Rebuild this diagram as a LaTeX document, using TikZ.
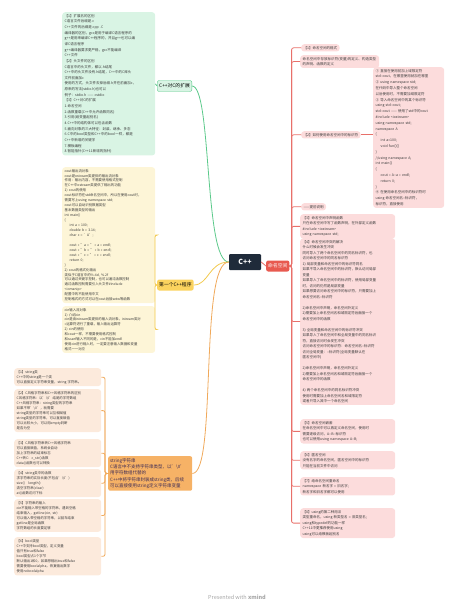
\documentclass[tikz,border=0pt]{standalone}
\usepackage{fontspec}
\setmainfont{Noto Sans CJK SC}
\XeTeXlinebreaklocale "zh"
\XeTeXlinebreakskip=0pt plus 1pt
\usetikzlibrary{positioning}

\definecolor{rootfill}{HTML}{1F2B3A}
\definecolor{grnline}{HTML}{5BC98A}
\definecolor{grnfill}{HTML}{D9F4E4}
\definecolor{yelline}{HTML}{F2C94C}
\definecolor{yeltopic}{HTML}{FBD35E}
\definecolor{yelfill}{HTML}{FDF5D7}
\definecolor{orgline}{HTML}{F0A95B}
\definecolor{orgtopic}{HTML}{F6B266}
\definecolor{orgtext}{HTML}{3D2B56}
\definecolor{orgfill}{HTML}{FCEADC}
\definecolor{redline}{HTML}{E8706A}
\definecolor{redtopic}{HTML}{E85A50}
\definecolor{redfill}{HTML}{FCDCDC}
\definecolor{notetext}{HTML}{3C3C3C}

\newcommand\notesize{\fontsize{3.5}{5.5}\selectfont}
\newcommand\topicsize{\fontsize{4.8}{6.4}\selectfont}

\begin{document}
\begin{tikzpicture}[x=1pt, y=-1pt,
  root/.style={fill=rootfill, text=white, font=\fontsize{7}{8}\selectfont\bfseries, minimum width=32pt, minimum height=16pt, rounded corners=1pt},
  topic/.style={rounded corners=2pt, font=\topicsize, inner sep=2pt, minimum height=11pt},
  note/.style={rounded corners=3pt, font=\notesize, text=notetext, align=left, anchor=north west, inner xsep=2.5pt, inner ysep=2pt},
  grnnote/.style={note, fill=grnfill, font=\fontsize{3.5}{5.65}\selectfont},
  yelnote/.style={note, fill=yelfill, font=\fontsize{3.4}{4.95}\selectfont},
  orgnote/.style={note, fill=orgfill, text width=82pt, font=\fontsize{3.4}{5.1}\selectfont},
  rednote/.style={note, fill=redfill},
  grn/.style={draw=grnline, line width=0.8pt},
  yel/.style={draw=yelline, line width=0.8pt},
  org/.style={draw=orgline, line width=0.8pt},
  red/.style={draw=redline, line width=0.8pt}
]
  \useasboundingbox (0,0) rectangle (474,606);

  % Root
  \node[root] (cpp) at (245,262) {C++};

  % Topics
  \node[topic, fill=grnfill, draw=grnline, anchor=west] (ext) at (157,86) {C++对C的扩展};
  \node[topic, fill=yeltopic, anchor=west] (first) at (157,285) {第一个C++程序};
  \node[topic, fill=orgtopic, text=orgtext, anchor=north west, align=left, text width=80pt, font=\fontsize{4.5}{6.4}\selectfont] (str) at (108,456) {string字符串\\C语言中不支持字符串类型，以'\textbackslash 0'\\用字符数组代替的\\C++中将字符串封装成string类，后续\\可以直接使用string定义字符串变量};
  \node[topic, fill=redtopic, text=white, anchor=west] (ns) at (266,266) {命名空间};

  % C++对C的扩展
  \node[grnnote, text width=88pt] (extbox) at (62,12) {%
【1】扩展名的区别\\
C语言文件后缀是.c\\
C++文件的后缀是.cpp .C\\
编译器的区别，gcc是用于编译C语言程序的\\
g++是用来编译C++程序的，并且g++也可以编\\
译C语言程序\\
g++编译器要求更严格，gcc不能编译\\
C++文件\\
【2】头文件的区别\\
C语言中的头文件，都以.h结尾\\
C++中的头文件没有.h结尾，C++中的C库头\\
文件前面加c\\
使用的方式，头文件去掉后缀.h并在前面加c，\\
原来的写法(stdio.h)也可以\\
例子：stdio.h —— cstdio\\
【3】C++对C的扩展\\
1.命名空间\\
2.函数重载(C++中允许函数同名)\\
3.引用(给变量起别名)\\
4.C++中的结构体可以包含函数\\
5.面向对象的三大特征：封装、继承、多态\\
6.C中的bool类型和C++中的bool一样，都是\\
C++中新增的关键字\\
7.模板编程\\
8.智能指针(C++11新增的指针)};

  % 第一个C++程序
  \node[yelnote, text width=88pt] (cout) at (62,167) {%
cout输出流对象\\
cout是ostream类提供的输出流对象\\
作用：输出内容，不需要使用格式控制\\
在C++中ostream类提供了输出的功能\\
1) cout的使用\\
cout标识符在std命名空间中，所以在使用cout时，\\
需要写上using namespace std;\\
cout可以自动识别数据类型\\
基本数据类型的输出\\
int main()\\
\{\\
\hspace*{5pt}int a = 100;\\
\hspace*{5pt}double b = 3.14;\\
\hspace*{5pt}char c = 'A';\\[4.95pt]
\hspace*{5pt}cout << "a = " << a << endl;\\
\hspace*{5pt}cout << "b = " << b << endl;\\
\hspace*{5pt}cout << "c = " << c << endl;\\
\hspace*{5pt}return 0;\\
\}\\
2) cout的格式化输出\\
类似于C语言中的\%-4d, \%.2f\\
可以通过关键字控制，也可以通过函数控制\\
通过函数控制需要引入头文件\#include\\
<iomanip>\\
配置中的不能使用中文\\
控制格式的方式可以在cout后接setw等函数};

  \node[yelnote, text width=88pt] (cin) at (62,306) {%
cin输入流对象\\
1) 介绍cin\\
cin是由istream类提供的输入流对象，istream类对\\
>>运算符进行了重载，输入输出运算符\\
2) cin的使用\\
和cout一样，不需要使用格式控制\\
和scanf输入不同的是，cin不能加endl\\
使用cin进行输入时，一定要注意输入数据和变量\\
格式一一对应};

  % string字符串
  \node[orgnote] (s1) at (14,368) {%
【1】string类\\
C++中的string是一个类\\
可以直接定义字符串变量，string 字符串。};
  \node[orgnote] (s2) at (14,389) {%
【2】C风格字符串和C++风格字符串的区别\\
C风格字符串：以'\textbackslash 0'结尾的字符数组\\
C++风格字符串：string类型的字符串\\
如果不带'\textbackslash 0'，就需要\\
string类型的字符串可以互相赋值\\
string类型的字符串，可以直接赋值\\
可以比较大小，可以用empty判断\\
是否为空};
  \node[orgnote] (s3) at (14,439) {%
【3】C风格字符串转C++风格字符串\\
可以直接赋值，系统会自动\\
加上字符串的结束标志\\
C++转C：c\_str()函数\\
data()函数也可以转换};
  \node[orgnote] (s4) at (14,469) {%
【4】string类中的函数\\
求字符串的实际长度(不包含'\textbackslash 0')\\
size()\quad length()\\
清空字符串(clear)\\
at()函数访问下标};
  \node[orgnote] (s5) at (14,499) {%
【5】字符串的输入\\
cin不能输入带空格的字符串，遇到空格\\
结束输入，getline(cin, str)\\
可以输入带空格的字符串，以回车结束\\
getline是全局函数\\
字符数组的长度要足够};
  \node[orgnote] (s6) at (14,537) {%
【6】bool类型\\
C++中支持bool类型，定义变量\\
值只有true和false\\
bool类型占1个字节\\
默认输出1和0，如果想输出true和false\\
需要使用boolalpha，恢复输出数字\\
使用noboolalpha};

  % 命名空间
  \node[rednote] (fmt) at (301,44) {【1】命名空间的格式};
  \node[rednote, text width=74pt] (fmtbody) at (300,55) {命名空间中存放标识符(变量)的定义、构造类型的声明、函数的定义};
  \node[rednote, text width=66pt, font=\fontsize{3.5}{5.8}\selectfont] (usebody) at (373,67) {%
① 直接在使用前加上域限定符\\
std::cout，在哪里使用就加在哪里\\
② using namespace std;\\
在代码中导入整个命名空间\\
以后使用时，不需要加域限定符\\
③ 导入命名空间中的某个标识符\\
using std::cout;\\
std::cout —— 使用了std中的cout\\
\#include <iostream>\\
using namespace std;\\
namespace A\\
\{\\
\hspace*{5pt}int a=100;\\
\hspace*{5pt}void fun()\{\}\\
\}\\
//using namespace A;\\
int main()\\
\{\\
\hspace*{5pt}cout << A::a << endl;\\
\hspace*{5pt}return 0;\\
\}\\
④ 在使用命名空间中的标识符时\\
using 命名空间名::标识符，\\
标识符，直接使用};
  \node[rednote] (usehdr) at (301,131) {【2】如何使用命名空间中的标识符};
  \node[rednote] (pre) at (301,203) {------提前说明};
  \node[rednote, text width=90pt] (decl) at (300,214) {%
【3】命名空间中声明函数\\
只在命名空间中写了函数声明，在外部定义函数\\
\#include <iostream>\\
using namespace std;};
  \node[rednote, text width=90pt] (clash) at (300,238) {%
【4】命名空间冲突的解决\\
什么时候会发生冲突\\
同时导入了两个命名空间中的同名标识符，也\\
访问命名空间中的同名标识符\\
1) 局部变量和命名空间中的标识符同名\\
如果不导入命名空间中的标识符，默认访问局部\\
变量\\
如果导入了命名空间中的标识符，使用局部变量\\
时，访问的仍然是局部变量\\
如果想要访问命名空间中的标识符，只需要加上\\
命名空间名::标识符\\[5.5pt]
2)命名空间中声明，命名空间外定义\\
2)需要加上命名空间名和域限定符后面接一个\\
命名空间中的函数\\[5.5pt]
3) 全局变量和命名空间中的标识符冲突\\
如果导入了命名空间中和全局变量中的同名标识\\
符，直接访问时会发生冲突\\
访问命名空间中的标识符：命名空间名::标识符\\
访问全局变量：::标识符(全局变量默认在\\
匿名空间中)\\[5.5pt]
2)命名空间中声明，命名空间外定义\\
2)需要加上命名空间名和域限定符后面接一个\\
命名空间中的函数\\[5.5pt]
4) 两个命名空间中的同名标识符冲突\\
使用时需要加上命名空间名和域限定符\\
或者只导入其中一个命名空间};
  \node[rednote, text width=90pt] (nest) at (300,419) {%
【5】命名空间嵌套\\
在命名空间中可以再定义命名空间，使用时\\
需要逐级访问，A::B::标识符\\
也可以使用using namespace A::B;};
  \node[rednote, text width=90pt] (anon) at (300,451) {%
【6】匿名空间\\
没有名字的命名空间，匿名空间中的标识符\\
只能在当前文件中访问};
  \node[rednote, text width=90pt] (rename) at (300,477) {%
【7】给命名空间重命名\\
namespace 新名字 = 旧名字;\\
新名字和旧名字都可以使用};
  \node[rednote, text width=90pt] (usingtwo) at (300,508) {%
【8】using的第二种用法\\
类型重命名，using 新类型名 = 旧类型名;\\
using和typedef的功能一样\\
C++11中更推荐使用using\\
using可以给模板起别名};

  % Connectors
  \draw[grn] (cpp.west) .. controls +(-25,0) and +(20,0) .. (ext.east);
  \draw[grn] (ext.west) -- (extbox.east);
  \draw[yel] (cpp.west) .. controls +(-20,0) and +(15,0) .. (first.east);
  \foreach \kid in {cout, cin}
    \draw[yel, rounded corners=2pt] (first.west) -- ++(-2,0) |- (\kid.east);
  \draw[org] (cpp.west) .. controls +(-30,0) and +(25,0) .. (str.east);
  \foreach \kid in {s1, s2, s3, s4, s5, s6}
    \draw[org, rounded corners=2pt] (str.west) -- ++(-3,0) |- (\kid.east);
  \draw[red] (cpp.east) -- (ns.west);
  \foreach \kid in {fmt, fmtbody, usehdr, pre, decl, clash, nest, anon, rename, usingtwo}
    \draw[red, rounded corners=2pt] (ns.east) -- ++(2,0) |- (\kid.west);
  \draw[red] (usehdr.east) -- (usebody.west |- usehdr.east);

  % Footer
  \node[text=black!35, font=\fontsize{5.5}{6}\selectfont] (credit) at (237,597) {Presented with \textbf{xmind}};
\end{tikzpicture}
\end{document}
